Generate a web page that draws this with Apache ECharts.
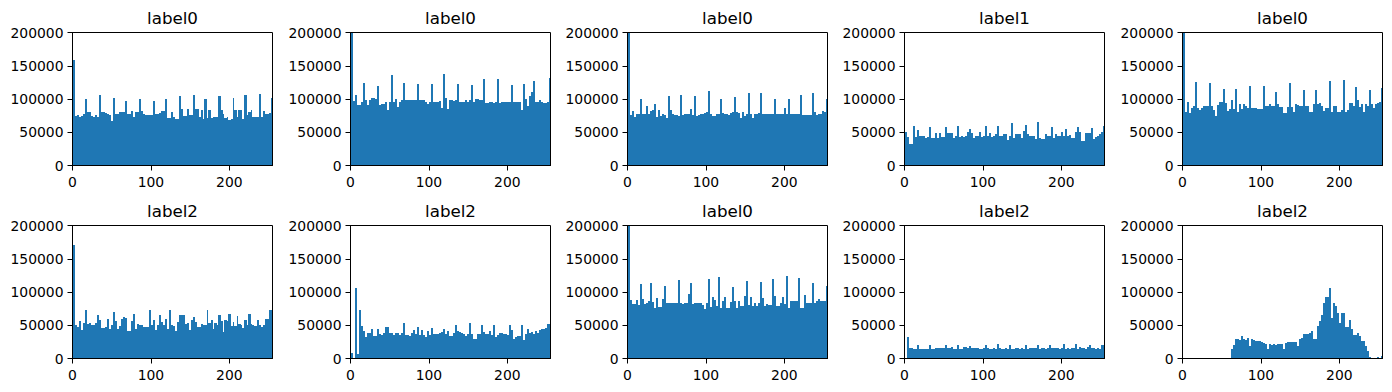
<!DOCTYPE html>
<html>
<head>
<meta charset="utf-8">
<script src="https://cdn.jsdelivr.net/npm/echarts@6.0.0/dist/echarts.min.js"></script>
<style>
html, body { margin: 0; padding: 0; background: #fff; }
#chart { width: 1392px; height: 392px; }
</style>
</head>
<body>
<div id="chart"></div>
<script>
// ---------------- data ----------------
const titles = ['label0', 'label0', 'label0', 'label1', 'label0',
                'label2', 'label2', 'label0', 'label2', 'label2'];
const xTicks = [0, 100, 200];
const yTicks = [0, 50000, 100000, 150000, 200000];
const binCount = 100;
const binRange = [0, 255];
const yRange = [0, 200000];

const counts1 = [
  158000, 74000, 75500, 72600, 74000, 78000, 100000, 80000, 80000, 74000,
  72600, 76600, 73000, 106000, 80000, 80000, 79500, 78000, 76600, 67000,
  102000, 78000, 78000, 80000, 80000, 80000, 97000, 78000, 78000, 82000,
  73000, 80000, 80000, 100000, 82000, 77000, 75500, 75500, 75500, 75500,
  97000, 77600, 77600, 79600, 81600, 81600, 100000, 71600, 71600, 80000,
  73000, 69600, 69600, 104000, 84700, 74000, 74000, 84700, 75600, 75600,
  106000, 84700, 84700, 73000, 83000, 69600, 100000, 71600, 83000, 71600,
  73000, 73000, 73000, 104000, 83000, 78000, 71600, 73000, 68000, 69600,
  102000, 83000, 73000, 83000, 83000, 69600, 106000, 75600, 80600, 83000,
  73000, 73000, 73000, 108000, 73000, 82000, 78000, 78000, 79000, 102000
];
const counts2 = [
  240000, 97000, 106000, 91000, 91000, 95000, 124000, 98000, 91000, 98000,
  102000, 102000, 100000, 119000, 91000, 92000, 92000, 96000, 84000, 96000,
  136000, 96000, 100000, 88000, 96000, 99000, 124000, 99000, 99000, 99000,
  99000, 99000, 98000, 122000, 99000, 99000, 99000, 95000, 92000, 95000,
  122000, 96000, 96000, 96000, 97000, 87000, 138000, 102000, 85000, 98000,
  99000, 97000, 99000, 122000, 95000, 95000, 95000, 98000, 96000, 98000,
  121000, 96000, 100000, 100000, 98000, 98000, 130000, 94000, 94000, 96000,
  96000, 94000, 96000, 130000, 94000, 96000, 95000, 95000, 95000, 96000,
  121000, 96000, 95000, 95000, 95000, 84000, 122000, 100000, 90000, 104000,
  110000, 127000, 96000, 95000, 99000, 95000, 94000, 94000, 96000, 131000
];
const counts3 = [
  230000, 76600, 81600, 73000, 78000, 78000, 100000, 78000, 77000, 89000,
  77000, 82000, 84000, 92000, 73000, 83000, 75000, 78000, 76000, 72000,
  104000, 84000, 77000, 76000, 76000, 75000, 106000, 76000, 77000, 78000,
  77000, 85000, 76000, 104000, 74000, 76000, 77000, 78000, 79000, 81000,
  112000, 77000, 75000, 75000, 78000, 78000, 100000, 79000, 77000, 77000,
  76000, 79000, 80000, 103000, 80000, 79000, 71600, 81000, 75000, 78000,
  109000, 77000, 71600, 77000, 77000, 79000, 109000, 78000, 78000, 78000,
  77000, 77000, 77000, 100000, 77000, 77000, 77000, 77000, 86000, 77000,
  100000, 77000, 78000, 77000, 78000, 78000, 106000, 76000, 76000, 76000,
  76000, 76000, 109000, 81000, 76000, 77000, 78000, 82000, 80000, 100000
];
const counts4 = [
  51000, 43000, 32000, 32000, 59000, 43000, 54000, 45000, 45000, 45000,
  42000, 43000, 58000, 42000, 42000, 49000, 42000, 49000, 43000, 43000,
  58000, 49000, 49000, 49000, 42000, 44000, 60000, 43000, 44000, 43000,
  45000, 51000, 55000, 49000, 41000, 44000, 44000, 50000, 43000, 45000,
  60000, 44000, 49000, 43000, 45000, 48000, 60000, 45000, 45000, 47000,
  47000, 38000, 45000, 64000, 41000, 47000, 47000, 47000, 42000, 52000,
  61000, 47000, 45000, 44000, 44000, 40000, 65500, 41000, 40000, 40000,
  48000, 44000, 44000, 58000, 41000, 48000, 44000, 44000, 50000, 44000,
  55000, 44000, 46000, 42000, 42000, 50000, 58000, 50000, 37000, 37000,
  49000, 49000, 49000, 57000, 40000, 43000, 45000, 47000, 51000, 59000
];
const counts5 = [
  240000, 80600, 95000, 79000, 86000, 89000, 125000, 87000, 84000, 86000,
  89000, 89000, 89000, 124000, 89000, 83000, 74000, 91000, 95000, 95000,
  115000, 94000, 82000, 85000, 98000, 85000, 115000, 81000, 92000, 85000,
  93000, 89000, 86000, 119000, 87000, 86000, 86000, 85000, 85000, 85000,
  119000, 90000, 90000, 92000, 89000, 89000, 110000, 93000, 88000, 88000,
  79000, 79000, 88000, 124000, 88000, 81000, 92000, 91000, 90000, 89000,
  113000, 89000, 89000, 80600, 80000, 92000, 113000, 93000, 94000, 89000,
  82000, 87000, 87000, 127000, 80000, 89000, 89000, 80000, 80000, 84000,
  128500, 80000, 84000, 94000, 94000, 89000, 118000, 98000, 88000, 92000,
  80600, 92000, 89000, 113000, 92000, 87000, 93000, 94000, 96000, 116000
];
const counts6 = [
  170000, 50000, 47500, 56000, 42500, 54000, 73500, 52500, 53500, 51000,
  51000, 53000, 65000, 57500, 46000, 46000, 48000, 60000, 44000, 50000,
  70000, 56000, 45000, 49000, 59000, 62000, 61000, 41000, 41000, 56000,
  67500, 45000, 51500, 50000, 50000, 47500, 47500, 47500, 73500, 50000,
  57500, 42500, 50000, 66000, 55000, 51000, 60000, 44000, 72500, 50000,
  48500, 41000, 55000, 65000, 65000, 65000, 52000, 54000, 42500, 57500,
  62500, 55000, 47500, 47500, 51500, 50000, 51000, 72500, 54000, 57500,
  44000, 54000, 51000, 65000, 56000, 40000, 58500, 56000, 67500, 48500,
  55000, 48500, 63500, 52500, 50000, 46000, 58000, 50000, 66500, 52500,
  50000, 48500, 58500, 51000, 47500, 51000, 59000, 60000, 72500, 72500
];
const counts7 = [
  9000, 0, 106000, 7500, 72500, 48500, 41000, 32500, 39000, 38000,
  45000, 34000, 34000, 44000, 37000, 36000, 38000, 47500, 47500, 38000,
  38000, 36000, 39000, 39000, 35000, 39000, 53000, 35500, 35500, 34500,
  39000, 42500, 37000, 47500, 35000, 42500, 35000, 33000, 42000, 36000,
  46500, 36500, 37000, 37000, 39000, 39500, 45000, 37000, 41000, 34000,
  34000, 39000, 50000, 41000, 39500, 38000, 37000, 34000, 36500, 53000,
  37500, 29000, 29000, 37000, 37000, 50000, 39500, 36500, 37000, 41000,
  36000, 50000, 32000, 35500, 38000, 38000, 37000, 37000, 36000, 50000,
  43500, 29000, 32000, 33500, 34000, 50000, 28000, 37000, 44500, 38000,
  39500, 37500, 42000, 38000, 43500, 45000, 45000, 46000, 52500, 52500
];
const counts8 = [
  230000, 87500, 82000, 82000, 87500, 81000, 111500, 89000, 82000, 83000,
  86000, 114000, 85000, 76000, 91000, 77000, 77000, 90000, 108500, 84000,
  83500, 83500, 83500, 83000, 83500, 117500, 83500, 82500, 84000, 84000,
  96500, 114000, 82000, 84000, 84000, 84000, 84000, 80000, 74000, 84000,
  119000, 77000, 92000, 87500, 79000, 122000, 76000, 87000, 92000, 76000,
  76000, 85000, 107500, 86000, 76000, 86000, 79000, 79000, 94000, 116000,
  81000, 92500, 79000, 84000, 79000, 83000, 115500, 91000, 79000, 82000,
  80000, 80000, 119000, 94000, 79000, 79000, 84000, 92000, 82000, 123500,
  76000, 86000, 86000, 87000, 87000, 121000, 76000, 76000, 95000, 84000,
  84000, 84000, 113000, 84000, 86000, 90000, 86000, 86000, 86000, 109000
];
const counts9 = [
  0, 32000, 16000, 16000, 14000, 14000, 20000, 14000, 15000, 14000,
  14000, 14000, 21000, 14000, 14000, 16000, 16000, 16000, 16000, 16000,
  20000, 16000, 16000, 18000, 14000, 14000, 21000, 14000, 14000, 17000,
  17000, 16000, 19000, 16000, 16000, 16000, 16000, 14000, 14000, 16000,
  20000, 16000, 15000, 14000, 16000, 15000, 21500, 16000, 15000, 14000,
  16000, 14000, 20000, 15000, 14000, 16500, 16500, 14000, 16000, 14000,
  20000, 15000, 16000, 16000, 16000, 16000, 20000, 14000, 16000, 16000,
  14000, 16000, 20000, 16000, 16000, 16000, 16000, 14000, 16000, 21500,
  14000, 16000, 14000, 16000, 16000, 21500, 14000, 17000, 16000, 16000,
  14000, 17000, 20000, 16000, 16000, 14000, 16000, 14000, 20000, 20000
];
const counts10 = [
  0, 0, 0, 0, 0, 0, 0, 0, 0, 0,
  0, 0, 0, 0, 0, 0, 0, 0, 0, 0,
  0, 0, 0, 0, 14000, 20000, 30000, 29000, 28000, 33500,
  30000, 28000, 31000, 18500, 29000, 28000, 26000, 27000, 26000, 25000,
  24000, 22500, 14500, 21500, 20500, 21500, 20500, 21500, 21500, 21500,
  15000, 23000, 24500, 24500, 24500, 24500, 24500, 18500, 29000, 31500,
  36500, 36500, 36500, 38000, 42000, 29000, 29000, 49000, 56500, 65000,
  84000, 93000, 93000, 106000, 61000, 84000, 79000, 68000, 53000, 68000,
  68000, 47000, 47000, 57500, 44000, 35000, 35000, 38000, 34000, 26000,
  26000, 19000, 11000, 2500, 0, 0, 0, 2000, 1000, 4000
];
const allCounts = [counts1, counts2, counts3, counts4, counts5,
                   counts6, counts7, counts8, counts9, counts10];

// ---------------- layout / style ----------------
const colLefts = [72.5, 350.5, 627.5, 904.5, 1182.5];
const rowTops = [32.5, 225.5];
const plotW = 200, plotH = 133;
const barColor = '#1f77b4';
const FONT = 'DejaVu Sans';
const tickFont = 13.9, titleFont = 16.7;

const binWidth = (binRange[1] - binRange[0]) / binCount;

function renderItem(params, api) {
  const x0 = api.value(0), x1 = api.value(1), v = api.value(2);
  const pTop = api.coord([x0, v]);
  const pBot = api.coord([x1, 0]);
  const xa = Math.round(pTop[0]), xb = Math.round(pBot[0]);
  const ya = Math.round(pTop[1]), yb = Math.round(pBot[1]);
  return {
    type: 'rect',
    shape: { x: xa, y: ya, width: xb - xa, height: yb - ya },
    style: { fill: barColor }
  };
}

const grids = [], xAxes = [], yAxes = [], series = [], graphics = [];
allCounts.forEach((counts, i) => {
  const r = Math.floor(i / 5), c = i % 5;
  const left = colLefts[c], top = rowTops[r];
  grids.push({
    left: left, top: top, width: plotW, height: plotH,
    show: true, borderColor: '#000', borderWidth: 1,
    backgroundColor: 'transparent', z: 5,
    containLabel: false, outerBoundsMode: 'none'
  });
  xAxes.push({
    gridIndex: i, type: 'value', min: binRange[0], max: binRange[1], interval: 100,
    z: 5,
    axisLine: { show: true, onZero: false, lineStyle: { color: '#000', width: 1 } },
    axisTick: { show: true, length: 5, customValues: xTicks, lineStyle: { color: '#000', width: 1 } },
    axisLabel: { customValues: xTicks, color: '#000', fontFamily: FONT, fontSize: tickFont, margin: 9,
                 formatter: v => String(v) },
    splitLine: { show: false }
  });
  yAxes.push({
    gridIndex: i, type: 'value', min: yRange[0], max: yRange[1], interval: 50000,
    z: 5,
    axisLine: { show: true, onZero: false, lineStyle: { color: '#000', width: 1 } },
    axisTick: { show: true, length: 5, customValues: yTicks, lineStyle: { color: '#000', width: 1 } },
    axisLabel: { customValues: yTicks, color: '#000', fontFamily: FONT, fontSize: tickFont, margin: 9,
                 formatter: v => String(v) },
    splitLine: { show: false }
  });
  const data = counts.map((v, k) => [binRange[0] + k * binWidth, binRange[0] + (k + 1) * binWidth, v]);
  series.push({
    type: 'custom', xAxisIndex: i, yAxisIndex: i, z: 2, clip: true,
    renderItem: renderItem, encode: { x: [0, 1], y: 2 }, data: data,
    silent: true, animation: false
  });
  graphics.push({
    type: 'text', x: left + plotW / 2, y: top - 14.3,
    style: { text: titles[i], fill: '#000', font: titleFont + 'px "' + FONT + '"',
             textAlign: 'center', textVerticalAlign: 'middle' }
  });
});

const chart = echarts.init(document.getElementById('chart'), null, { renderer: 'svg', width: 1392, height: 392 });
chart.setOption({
  backgroundColor: '#fff',
  animation: false,
  grid: grids,
  xAxis: xAxes,
  yAxis: yAxes,
  series: series,
  graphic: graphics
});
</script>
</body>
</html>
